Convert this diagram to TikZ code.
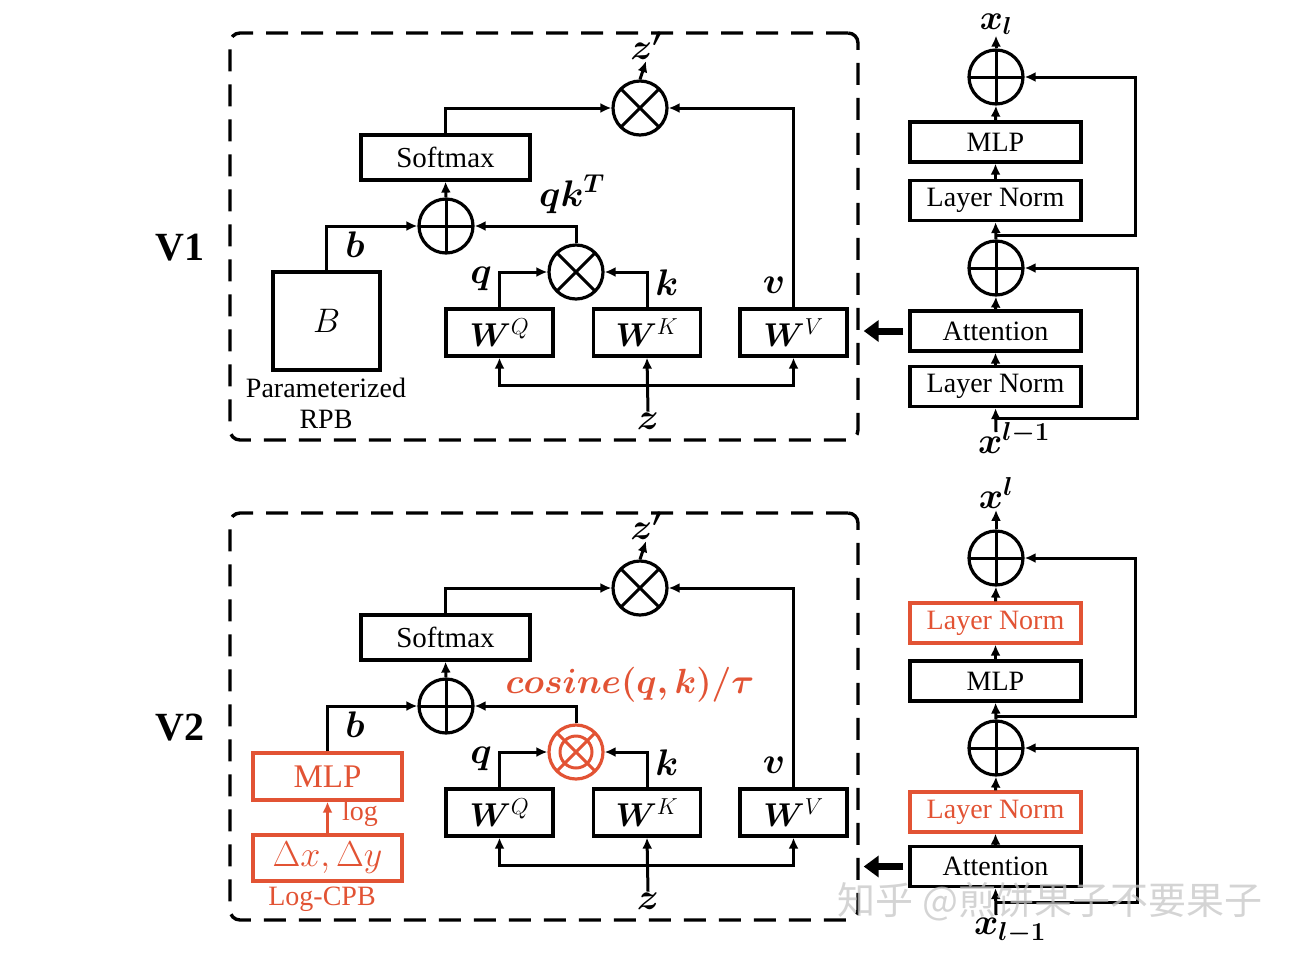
\RequirePackage{fix-cm}
\documentclass[tikz,border=0pt]{standalone}
\usepackage{amsmath,bm}
\usepackage{fontspec}
\setmainfont{Liberation Serif}
\newfontfamily\cjkfont{Noto Sans CJK SC}
\usetikzlibrary{arrows.meta}
\definecolor{hlred}{RGB}{226,83,52}
\newcommand{\fs}[1]{\fontsize{#1}{#1}\selectfont}

\begin{document}
\begin{tikzpicture}[x=1pt,y=-1pt,
  arr/.style={line width=3pt,-{Latex[length=11pt,width=10pt]}},
  fat/.style={line width=7pt,-{Triangle[length=15pt,width=21pt]}},
  blk/.style={draw,line width=3.2pt,inner sep=0pt,font=\fs{28}},
  wbox/.style={blk,minimum width=107,minimum height=47,font=\fs{33}},
  rbox/.style={blk,minimum width=171,minimum height=40},
  redbox/.style={blk,draw=hlred,text=hlred,minimum width=149,minimum height=47},
  frame/.style={draw,line width=3.4pt,dash pattern=on 22pt off 13pt,rounded corners=10pt,
    minimum width=628,minimum height=407,inner sep=0pt},
  mlabel/.style={inner sep=1pt,font=\fs{37}\boldmath},
  panel/.style={font=\fs{40}\bfseries},
  oplus/.style={circle,draw,line width=3.2pt,minimum size=54,inner sep=0pt,
    path picture={\draw[line width=3pt]
      (path picture bounding box.north) -- (path picture bounding box.south)
      (path picture bounding box.west) -- (path picture bounding box.east);}},
  otimes/.style={circle,draw,line width=3.2pt,minimum size=54,inner sep=0pt,
    path picture={\draw[line width=3pt]
      (path picture bounding box.north west) -- (path picture bounding box.south east)
      (path picture bounding box.south west) -- (path picture bounding box.north east);}},
  rtimes/.style={circle,draw=hlred,line width=3.2pt,minimum size=54,inner sep=0pt,
    path picture={\draw[hlred,line width=3pt]
      (path picture bounding box.north west) -- (path picture bounding box.south east)
      (path picture bounding box.south west) -- (path picture bounding box.north east)
      (path picture bounding box.center) circle[radius=16];}}]
\useasboundingbox (0,0) rectangle (1300,954);

% V1 attention block
\node[frame] (frameA) at (544,236.5) {};
\node[panel] (vA) at (180,248) {V1};
\node[otimes] (outA) at (640,108) {};
\node[mlabel] (zpA) at (646,46) {$z'$};
\node[blk,minimum width=169,minimum height=45,font=\fs{29}] (smA) at (445.5,157.5) {Softmax};
\node[oplus] (addA) at (446,226) {};
\node[mlabel] (qkA) at (572,194) {$qk^{T}$};
\node[otimes] (mulA) at (576,272) {};
\node[mlabel] (bA) at (355,245) {$b$};
\node[blk,minimum width=107,minimum height=98] (rpbA) at (326.5,321) {\fs{34}$B$};
\node[align=center,font=\fs{28}] (rpbtA) at (326,403) {Parameterized\\[3pt]RPB};
\node[mlabel] (qA) at (481,279) {$q$};
\node[mlabel] (kA) at (667,283) {$k$};
\node[mlabel] (vlA) at (774,285) {$v$};
\node[wbox] (wqA) at (499.5,332.5) {$\bm{W}^{Q}$};
\node[wbox] (wkA) at (647,332.5) {$\bm{W}^{K}$};
\node[wbox] (wvA) at (793.5,332.5) {$\bm{W}^{V}$};
\coordinate (zsA) at (647,385);
\node[mlabel] (zA) at (648,421) {$z$};
\draw[arr] (smA.north) |- (outA.west);
\draw[arr] (wvA.north) |- (outA.east);
\draw[arr] (outA.north) -- (zpA.south);
\draw[arr] (addA.north) -- (smA.south);
\draw[arr] (rpbA.north) |- (addA.west);
\draw[arr] (mulA.north) |- (addA.east);
\draw[arr] (wqA.north) |- (mulA.west);
\draw[arr] (wkA.north) |- (mulA.east);
\draw[arr] (zA.north) -- (wkA.south);
\draw[arr] (zsA) -| (wqA.south);
\draw[arr] (zsA) -| (wvA.south);

% V1 transformer layer
\node[mlabel,font=\fs{35}\boldmath] (xoA) at (996,24) {$x_{l}$};
\node[oplus] (rsA2) at (996,77) {};
\node[rbox] (mlpA) at (995.5,142) {MLP};
\node[rbox] (lnA2) at (995.5,200.5) {Layer Norm};
\node[oplus] (rsA1) at (996,268) {};
\node[rbox] (attA) at (995.5,331) {Attention};
\node[rbox] (lnA1) at (995.5,386.5) {Layer Norm};
\node[mlabel] (xiA) at (1014,438) {$x^{l-1}$};
\coordinate (inA) at (996,432);
\coordinate (brA1) at (996,418);
\coordinate (brA2) at (996,235);
\draw[arr] (inA) -- (lnA1.south);
\draw[arr] (lnA1.north) -- (attA.south);
\draw[arr] (attA.north) -- (rsA1.south);
\draw[arr] (rsA1.north) -- (lnA2.south);
\draw[arr] (lnA2.north) -- (mlpA.south);
\draw[arr] (mlpA.north) -- (rsA2.south);
\draw[arr] (rsA2.north) -- (xoA.south);
\draw[arr] (brA1) -- ++(141,0) |- (rsA1.east);
\draw[arr] (brA2) -- ++(139,0) |- (rsA2.east);
\draw[fat] ([xshift=-5pt]attA.west) -- ([xshift=4pt]attA.west -| frameA.east);

% V2 attention block
\node[frame] (frameB) at (544,716.5) {};
\node[panel] (vB) at (180,728) {V2};
\node[otimes] (outB) at (640,588) {};
\node[mlabel] (zpB) at (646,526) {$z'$};
\node[blk,minimum width=169,minimum height=45,font=\fs{29}] (smB) at (445.5,637.5) {Softmax};
\node[oplus] (addB) at (446,706) {};
\node[mlabel,text=hlred,font=\fs{35}\boldmath] (cosB) at (630,685) {$cosine(q,k)/\tau$};
\node[rtimes] (mulB) at (576,752) {};
\node[mlabel] (bB) at (355,725) {$b$};
\node[redbox,font=\fs{33}] (mlpB) at (327.5,776.5) {MLP};
\node[text=hlred,font=\fs{28}] (logB) at (360,814) {log};
\node[redbox,minimum height=46,font=\fs{36}] (dB) at (327.5,858) {$\Delta x,\Delta y$};
\node[text=hlred,font=\fs{28}] (cpbB) at (322,899) {Log-CPB};
\node[mlabel] (qB) at (481,759) {$q$};
\node[mlabel] (kB) at (667,763) {$k$};
\node[mlabel] (vlB) at (774,765) {$v$};
\node[wbox] (wqB) at (499.5,812.5) {$\bm{W}^{Q}$};
\node[wbox] (wkB) at (647,812.5) {$\bm{W}^{K}$};
\node[wbox] (wvB) at (793.5,812.5) {$\bm{W}^{V}$};
\coordinate (zsB) at (647,865);
\node[mlabel] (zB) at (648,901) {$z$};
\draw[arr] (smB.north) |- (outB.west);
\draw[arr] (wvB.north) |- (outB.east);
\draw[arr] (outB.north) -- (zpB.south);
\draw[arr] (addB.north) -- (smB.south);
\draw[arr] (mlpB.north) |- (addB.west);
\draw[arr,hlred] (dB.north) -- (mlpB.south);
\draw[arr] (mulB.north) |- (addB.east);
\draw[arr] (wqB.north) |- (mulB.west);
\draw[arr] (wkB.north) |- (mulB.east);
\draw[arr] (zB.north) -- (wkB.south);
\draw[arr] (zsB) -| (wqB.south);
\draw[arr] (zsB) -| (wvB.south);

% V2 transformer layer
\node[mlabel] (xoB) at (996,493) {$x^{l}$};
\node[oplus] (rsB2) at (996,558) {};
\node[rbox,draw=hlred,text=hlred] (lnB2) at (995.5,623) {Layer Norm};
\node[rbox] (mlpB2) at (995.5,681) {MLP};
\node[oplus] (rsB1) at (996,748) {};
\node[rbox,draw=hlred,text=hlred] (lnB1) at (995.5,812) {Layer Norm};
\node[rbox] (attB) at (995.5,866.5) {Attention};
\node[mlabel] (xiB) at (1010,931) {$x_{l-1}$};
\coordinate (inB) at (996,915);
\coordinate (brB1) at (996,902);
\coordinate (brB2) at (996,716);
\draw[arr] (inB) -- (attB.south);
\draw[arr] (attB.north) -- (lnB1.south);
\draw[arr] (lnB1.north) -- (rsB1.south);
\draw[arr] (rsB1.north) -- (mlpB2.south);
\draw[arr] (mlpB2.north) -- (lnB2.south);
\draw[arr] (lnB2.north) -- (rsB2.south);
\draw[arr] (rsB2.north) -- (xoB.south);
\draw[arr] (brB1) -- ++(141,0) |- (rsB1.east);
\draw[arr] (brB2) -- ++(139,0) |- (rsB2.east);
\draw[fat] ([xshift=-5pt]attB.west) -- ([xshift=4pt]attB.west -| frameB.east);

% watermark
\node[text=gray!45,opacity=0.75,font=\cjkfont\fs{38}] (wm) at (1050,902) {知乎 @煎饼果子不要果子};
\end{tikzpicture}
\end{document}
